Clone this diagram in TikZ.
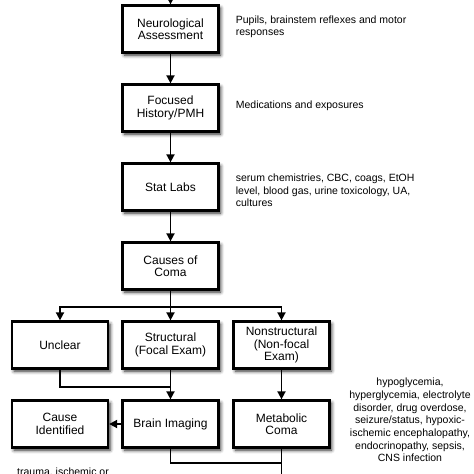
\documentclass[tikz,border=0pt]{standalone}
\usepackage{fontspec}
\setmainfont{Liberation Sans}
\usetikzlibrary{positioning,arrows.meta,shadows.blur}

\begin{document}
\begin{tikzpicture}
  [x=1pt,y=-1pt,line width=1.8pt,
   box/.style={draw,fill=white,line width=2.3pt,minimum width=96pt,minimum height=47pt,
     align=center,font=\fontsize{12}{12.5}\selectfont,
     blur shadow={shadow xshift=2pt,shadow yshift=-2.5pt,shadow blur radius=3.5pt,shadow opacity=85}},
   note/.style={inner sep=0pt,font=\fontsize{10.5}{12.7}\selectfont},
   arr/.style={-{Triangle[width=8pt,length=8pt]}}]
  \useasboundingbox (0,0) rectangle (474,474);
  \node[box] (na) at (170.5,29) {Neurological\\Assessment};
  \node[box] (fh) at (170.5,108) {Focused\\History/PMH};
  \node[box] (sl) at (170.5,187) {Stat Labs};
  \node[box] (cc) at (170.5,266) {Causes of\\Coma};
  \node[box] (uncl) at (60,345) {Unclear};
  \node[box] (strc) at (170.5,345) {Structural\\(Focal Exam)};
  \node[box] (nons) at (281.5,345) {Nonstructural\\(Non-focal\\Exam)};
  \node[box] (ci) at (60,424) {Cause\\Identified};
  \node[box] (bi) at (170.5,424) {Brain Imaging};
  \node[box] (mc) at (281.5,424) {Metabolic\\Coma};

  \node[note,anchor=north west,align=left] (t1) at (235,14.5)
    {Pupils, brainstem reflexes and motor\\responses};
  \node[note,anchor=west] (t2) at (235,106) {Medications and exposures};
  \node[note,anchor=north west,align=left] (t3) at (235,173)
    {serum chemistries, CBC, coags, EtOH\\level, blood gas, urine toxicology, UA,\\cultures};
  \node[note,align=center] (t4) at (410,420)
    {hypoglycemia,\\hyperglycemia, electrolyte\\disorder, drug overdose,\\seizure/status, hypoxic-\\ischemic encephalopathy,\\endocrinopathy, sepsis,\\CNS infection};
  \node[note,anchor=north] (t5) at (63,466.5) {trauma, ischemic or};

  \coordinate (start) at (170.5,-10);
  \coordinate (split) at (170.5,307);
  \coordinate (merge) at (170.5,387);
  \coordinate (join) at (281.5,463);
  \coordinate (next) at (281.5,485);

  \foreach \from/\to in {start/na,na/fh,fh/sl,sl/cc,split/strc,strc/bi,nons/mc,bi/ci,join/next}
   \draw[arr] (\from) -- (\to);
  \draw (cc) -- (split);
  \draw[arr] (split) -| (uncl);
  \draw[arr] (split) -| (nons);
  \draw (uncl) |- (merge);
  \draw (bi) |- (join);
  \draw (mc) -- (join);
\end{tikzpicture}
\end{document}
